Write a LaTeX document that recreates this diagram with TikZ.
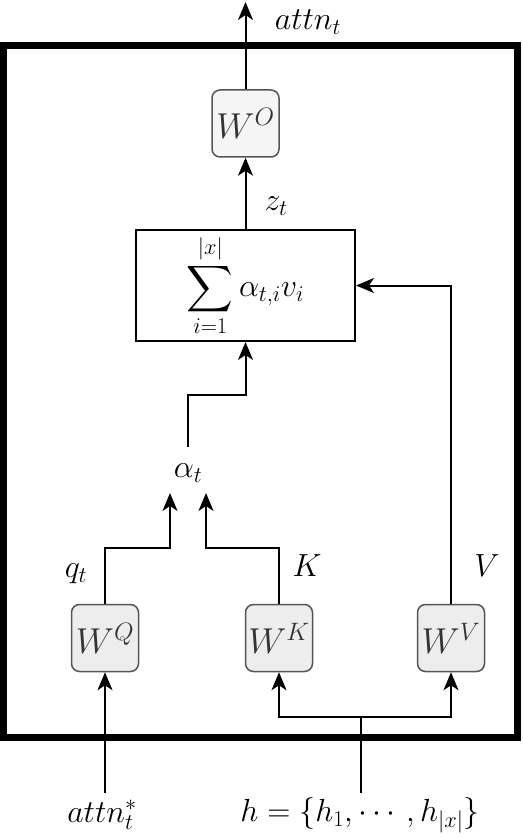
\RequirePackage{fix-cm}
\documentclass[tikz,border=0pt]{standalone}
\usepackage{amsmath}
\usepackage{graphicx}
\usetikzlibrary{arrows.meta}
\definecolor{boxfill}{HTML}{EDEDED}
\definecolor{boxfilllight}{HTML}{F5F5F5}
\definecolor{boxline}{HTML}{555555}
\definecolor{boxtext}{HTML}{333333}
\newcommand{\bigsumsym}{\mathop{\vcenter{\hbox{\scalebox{1.3}{$\displaystyle\sum$}}}}\limits}
\begin{document}
\begin{tikzpicture}[x=1pt,y=-1pt,
  font=\fontsize{32}{38}\selectfont,
  wire/.style={line width=2pt},
  arr/.style={wire,-{Stealth[length=18pt,width=15pt,inset=5pt]}},
  wbox/.style={draw=boxline,line width=1.5pt,fill=boxfill,rounded corners=8pt,
    minimum width=67pt,minimum height=67pt,inner sep=0pt,text=boxtext,
    font=\fontsize{36}{42}\selectfont},
  lbl/.style={inner sep=0pt}]
\useasboundingbox (0,0) rectangle (522,837);
\node[draw,line width=7pt,minimum width=513.5pt,minimum height=691pt,inner sep=0pt] (frame) at (260.25,391.5) {};
\node[wbox,fill=boxfilllight] (WO) at (245.5,123.5) {$W^O$};
\node[draw,line width=2pt,minimum width=219pt,minimum height=111pt,inner sep=0pt] (sum) at (245.5,285.5)
  {$\displaystyle\bigsumsym_{i=1}^{|x|}\alpha_{t,i}v_i$};
\node[wbox] (WQ) at (105,638) {$W^Q$};
\node[wbox] (WK) at (279,638) {$W^K$};
\node[wbox] (WV) at (451,638) {$W^V$};
\node[lbl,minimum height=52pt] (alpha) at (188,473) {$\alpha_t$};
\node[lbl] (attnt) at (308,22) {$attn_t$};
\node[lbl] (zt) at (276,206) {$z_t$};
\node[lbl] (qt) at (76,574) {$q_t$};
\node[lbl] (K) at (307,566) {$K$};
\node[lbl] (V) at (487,566) {$V$};
\node[lbl,minimum height=44pt] (attnstar) at (102,815) {$attn_t^*$};
\node[lbl,minimum height=44pt] (h) at (360,815) {$h=\{h_1,\cdots,h_{|x|}\}$};
\coordinate (top) at (245.5,2);
\coordinate (qtip) at (170,493);
\coordinate (ktip) at (206,493);
\coordinate (hsplit) at (361,717);
\draw[arr] (WO.north) -- (top);
\draw[arr] (sum.north) -- (WO.south);
\draw[arr] (WQ.north) -- ++(0,-56) -| (qtip);
\draw[arr] (WK.north) -- ++(0,-56) -| (ktip);
\draw[arr] (alpha.north) -- ++(0,-52) -| (sum.south);
\draw[arr] (WV.north) |- (sum.east);
\draw[arr] (WQ.south |- attnstar.north) -- (WQ.south);
\draw[wire] (hsplit |- h.north) -- (hsplit);
\draw[arr] (hsplit) -| (WK.south);
\draw[arr] (hsplit) -| (WV.south);
\end{tikzpicture}
\end{document}
